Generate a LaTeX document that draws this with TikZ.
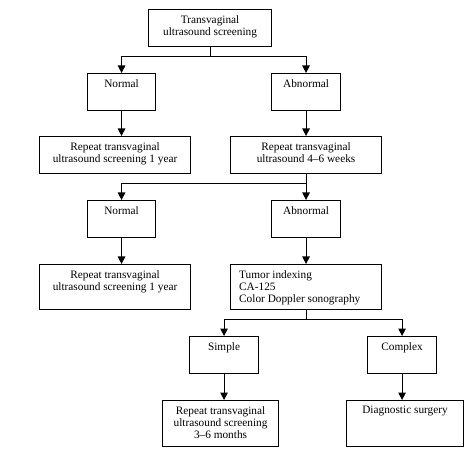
\documentclass[tikz,border=0pt]{standalone}
\usepackage{fontspec}
\setmainfont{Liberation Serif}
\usetikzlibrary{arrows.meta}
\begin{document}
\begin{tikzpicture}[x=1pt,y=-1pt,
 box/.style={draw, line width=1.1pt, inner sep=0pt, anchor=north west},
 txt/.style={anchor=north, inner sep=0pt, yshift=-6pt, align=center, font=\fontsize{11.3}{12}\selectfont},
 arr/.style={line width=1.1pt, -{Triangle[width=7.5pt,length=7.5pt]}}]
\useasboundingbox[fill=white] (0,0) rectangle (474,457);
\node[box, minimum width=123pt, minimum height=37pt, label={[txt]north:Transvaginal\\ultrasound screening}] (top) at (148,9) {};
\node[box, minimum width=68pt, minimum height=37pt, label={[txt]north:Normal}] (n1) at (87,73) {};
\node[box, minimum width=69pt, minimum height=37pt, label={[txt]north:Abnormal}] (a1) at (271,73) {};
\node[box, minimum width=151pt, minimum height=37pt, label={[txt]north:Repeat transvaginal\\ultrasound screening 1 year}] (r1) at (39,136) {};
\node[box, minimum width=151pt, minimum height=37pt, label={[txt]north:Repeat transvaginal\\ultrasound 4--6 weeks}] (r2) at (230,136) {};
\node[box, minimum width=68pt, minimum height=37pt, label={[txt]north:Normal}] (n2) at (87,200) {};
\node[box, minimum width=69pt, minimum height=37pt, label={[txt]north:Abnormal}] (a2) at (271,200) {};
\node[box, minimum width=151pt, minimum height=45pt, label={[txt]north:Repeat transvaginal\\ultrasound screening 1 year}] (r3) at (39,264) {};
\node[box, minimum width=151pt, minimum height=45pt, label={[txt, anchor=north west, align=left, xshift=9pt]north west:Tumor indexing\\CA-125\\Color Doppler sonography}] (tum) at (230,264) {};
\node[box, minimum width=69pt, minimum height=37pt, label={[txt]north:Simple}] (sim) at (189,336) {};
\node[box, minimum width=69pt, minimum height=37pt, label={[txt]north:Complex}] (cpx) at (367,336) {};
\node[box, minimum width=116pt, minimum height=46pt, label={[txt]north:Repeat transvaginal\\ultrasound screening\\3--6 months}] (r4) at (162,400) {};
\node[box, minimum width=117pt, minimum height=46pt, label={[txt]north:Diagnostic surgery}] (dg) at (346,400) {};
\draw[arr] (top.south) -- ++(0,9) -| (n1.north);
\draw[arr] (top.south) -- ++(0,9) -| (a1.north);
\draw[arr] (n1.south) -- (n1.south |- r1.north);
\draw[arr] (a1.south) -- (a1.south |- r2.north);
\draw[arr] (r2.south) -- ++(0,9) -| (n2.north);
\draw[arr] (r2.south) -- (r2.south |- a2.north);
\draw[arr] (n2.south) -- (n2.south |- r3.north);
\draw[arr] (a2.south) -- (a2.south |- tum.north);
\draw[arr] (tum.south) -- ++(0,9) -| (sim.north);
\draw[arr] (tum.south) -- ++(0,9) -| (cpx.north);
\draw[arr] (sim.south) -- (sim.south |- r4.north);
\draw[arr] (cpx.south) -- (cpx.south |- dg.north);
\end{tikzpicture}
\end{document}
